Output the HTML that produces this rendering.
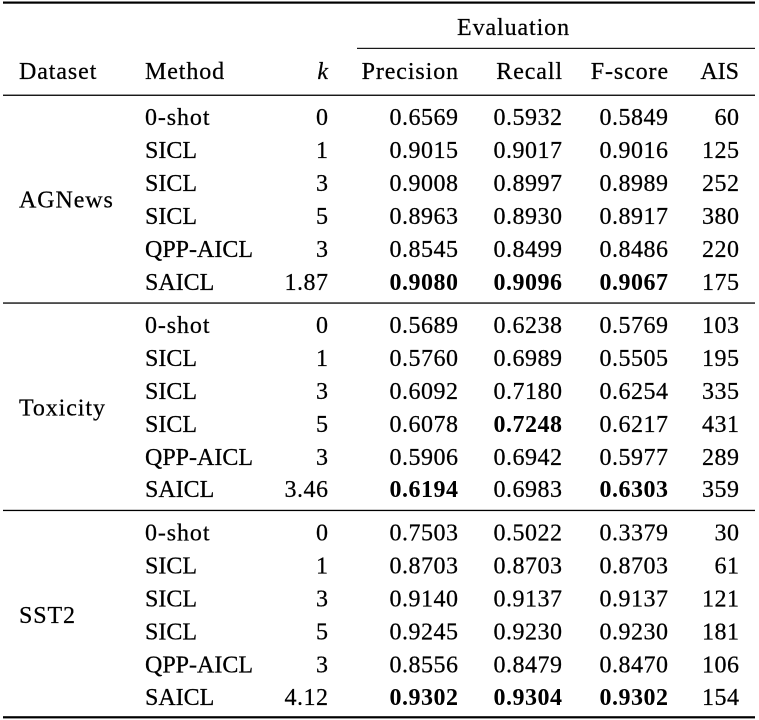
<!DOCTYPE html>
<html>
<head>
<meta charset="utf-8">
<style>
  html, body { margin: 0; padding: 0; background: #fff; }
  svg { display: block; }
  text { font-family: "Liberation Serif", serif; font-size: 24px; fill: #000; stroke: #000; stroke-width: 0.25px; }
  .w { letter-spacing: 0.9px; }
  .n { letter-spacing: 0.5px; }
  .b { font-weight: bold; stroke-width: 0; }
  .e { text-anchor: end; }
</style>
</head>
<body>
<svg width="759" height="720" viewBox="0 0 759 720" xmlns="http://www.w3.org/2000/svg">
  <!-- rules -->
  <rect x="3" y="1.5" width="752" height="2.2" fill="#000"/>
  <rect x="357" y="47.8" width="398" height="1.1" fill="#000"/>
  <rect x="3" y="94.6" width="752" height="1.3" fill="#000"/>
  <rect x="3" y="302.4" width="752" height="1.3" fill="#000"/>
  <rect x="3" y="509.8" width="752" height="1.3" fill="#000"/>
  <rect x="3" y="716.2" width="752" height="2.2" fill="#000"/>

  <!-- header -->
  <text class="w" x="513.5" y="35" text-anchor="middle">Evaluation</text>
  <text class="w" x="19" y="79">Dataset</text>
  <text class="w" x="145" y="79">Method</text>
  <text class="e" x="328" y="79" font-style="italic">k</text>
  <text class="w e" x="459" y="79">Precision</text>
  <text class="w e" x="563" y="79">Recall</text>
  <text class="w e" x="669" y="79">F-score</text>
  <text class="e" x="739" y="79">AIS</text>

  <!-- AGNews -->
  <text class="w" x="19" y="207.5">AGNews</text>
  <g>
    <text x="145" y="125" class="w">0-shot</text><text class="e" x="328" y="125">0</text>
    <text class="n e" x="458.5" y="125">0.6569</text><text class="n e" x="562.5" y="125">0.5932</text><text class="n e" x="668.5" y="125">0.5849</text><text class="n e" x="739.5" y="125">60</text>

    <text x="145" y="158">SICL</text><text class="e" x="328" y="158">1</text>
    <text class="n e" x="458.5" y="158">0.9015</text><text class="n e" x="562.5" y="158">0.9017</text><text class="n e" x="668.5" y="158">0.9016</text><text class="n e" x="739.5" y="158">125</text>

    <text x="145" y="191">SICL</text><text class="e" x="328" y="191">3</text>
    <text class="n e" x="458.5" y="191">0.9008</text><text class="n e" x="562.5" y="191">0.8997</text><text class="n e" x="668.5" y="191">0.8989</text><text class="n e" x="739.5" y="191">252</text>

    <text x="145" y="224">SICL</text><text class="e" x="328" y="224">5</text>
    <text class="n e" x="458.5" y="224">0.8963</text><text class="n e" x="562.5" y="224">0.8930</text><text class="n e" x="668.5" y="224">0.8917</text><text class="n e" x="739.5" y="224">380</text>

    <text x="145" y="257">QPP-AICL</text><text class="e" x="328" y="257">3</text>
    <text class="n e" x="458.5" y="257">0.8545</text><text class="n e" x="562.5" y="257">0.8499</text><text class="n e" x="668.5" y="257">0.8486</text><text class="n e" x="739.5" y="257">220</text>

    <text x="145" y="290">SAICL</text><text class="n e" x="328.5" y="290">1.87</text>
    <text class="n e b" x="458.5" y="290">0.9080</text><text class="n e b" x="562.5" y="290">0.9096</text><text class="n e b" x="668.5" y="290">0.9067</text><text class="n e" x="739.5" y="290">175</text>
  </g>

  <!-- Toxicity -->
  <text class="w" x="19" y="415.5">Toxicity</text>
  <g>
    <text x="145" y="333" class="w">0-shot</text><text class="e" x="328" y="333">0</text>
    <text class="n e" x="458.5" y="333">0.5689</text><text class="n e" x="562.5" y="333">0.6238</text><text class="n e" x="668.5" y="333">0.5769</text><text class="n e" x="739.5" y="333">103</text>

    <text x="145" y="366">SICL</text><text class="e" x="328" y="366">1</text>
    <text class="n e" x="458.5" y="366">0.5760</text><text class="n e" x="562.5" y="366">0.6989</text><text class="n e" x="668.5" y="366">0.5505</text><text class="n e" x="739.5" y="366">195</text>

    <text x="145" y="399">SICL</text><text class="e" x="328" y="399">3</text>
    <text class="n e" x="458.5" y="399">0.6092</text><text class="n e" x="562.5" y="399">0.7180</text><text class="n e" x="668.5" y="399">0.6254</text><text class="n e" x="739.5" y="399">335</text>

    <text x="145" y="432">SICL</text><text class="e" x="328" y="432">5</text>
    <text class="n e" x="458.5" y="432">0.6078</text><text class="n e b" x="562.5" y="432">0.7248</text><text class="n e" x="668.5" y="432">0.6217</text><text class="n e" x="739.5" y="432">431</text>

    <text x="145" y="465">QPP-AICL</text><text class="e" x="328" y="465">3</text>
    <text class="n e" x="458.5" y="465">0.5906</text><text class="n e" x="562.5" y="465">0.6942</text><text class="n e" x="668.5" y="465">0.5977</text><text class="n e" x="739.5" y="465">289</text>

    <text x="145" y="497">SAICL</text><text class="n e" x="328.5" y="497">3.46</text>
    <text class="n e b" x="458.5" y="497">0.6194</text><text class="n e" x="562.5" y="497">0.6983</text><text class="n e b" x="668.5" y="497">0.6303</text><text class="n e" x="739.5" y="497">359</text>
  </g>

  <!-- SST2 -->
  <text class="w" x="19" y="623">SST2</text>
  <g>
    <text x="145" y="540.5" class="w">0-shot</text><text class="e" x="328" y="540.5">0</text>
    <text class="n e" x="458.5" y="540.5">0.7503</text><text class="n e" x="562.5" y="540.5">0.5022</text><text class="n e" x="668.5" y="540.5">0.3379</text><text class="n e" x="739.5" y="540.5">30</text>

    <text x="145" y="573.5">SICL</text><text class="e" x="328" y="573.5">1</text>
    <text class="n e" x="458.5" y="573.5">0.8703</text><text class="n e" x="562.5" y="573.5">0.8703</text><text class="n e" x="668.5" y="573.5">0.8703</text><text class="n e" x="739.5" y="573.5">61</text>

    <text x="145" y="606.5">SICL</text><text class="e" x="328" y="606.5">3</text>
    <text class="n e" x="458.5" y="606.5">0.9140</text><text class="n e" x="562.5" y="606.5">0.9137</text><text class="n e" x="668.5" y="606.5">0.9137</text><text class="n e" x="739.5" y="606.5">121</text>

    <text x="145" y="639.5">SICL</text><text class="e" x="328" y="639.5">5</text>
    <text class="n e" x="458.5" y="639.5">0.9245</text><text class="n e" x="562.5" y="639.5">0.9230</text><text class="n e" x="668.5" y="639.5">0.9230</text><text class="n e" x="739.5" y="639.5">181</text>

    <text x="145" y="672.5">QPP-AICL</text><text class="e" x="328" y="672.5">3</text>
    <text class="n e" x="458.5" y="672.5">0.8556</text><text class="n e" x="562.5" y="672.5">0.8479</text><text class="n e" x="668.5" y="672.5">0.8470</text><text class="n e" x="739.5" y="672.5">106</text>

    <text x="145" y="705">SAICL</text><text class="n e" x="328.5" y="705">4.12</text>
    <text class="n e b" x="458.5" y="705">0.9302</text><text class="n e b" x="562.5" y="705">0.9304</text><text class="n e b" x="668.5" y="705">0.9302</text><text class="n e" x="739.5" y="705">154</text>
  </g>
</svg>
</body>
</html>
